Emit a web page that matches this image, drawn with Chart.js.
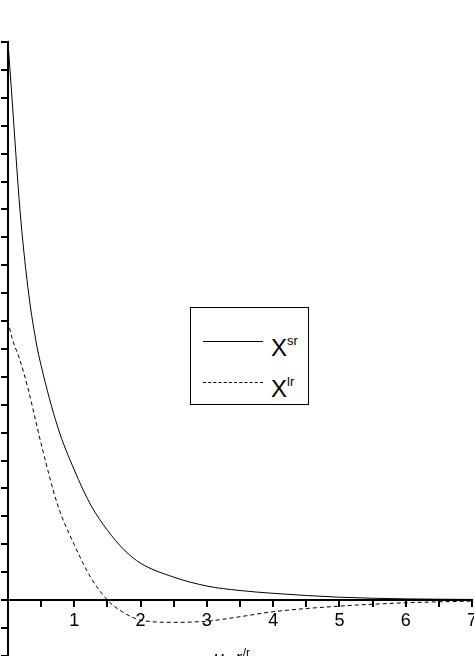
<!DOCTYPE html>
<html>
<head>
<meta charset="utf-8">
<script src="https://cdn.jsdelivr.net/npm/chart.js@4"></script>
<style>
  html, body { margin: 0; padding: 0; background: #fff; overflow: hidden; width: 474px; height: 656px; }
  #wrap { position: relative; width: 474px; height: 656px; overflow: hidden; }
  .legend { position: absolute; left: 190px; top: 307px; width: 117px; height: 96px; border: 1.5px solid #000; background: #fff; font-family: "Liberation Sans", Arial, sans-serif; }
  .row { position: absolute; left: 12px; height: 30px; }
  .row .ln { position: absolute; left: 0; top: 15px; width: 60px; border-top: 1px solid #000; }
  .row .ln.dash { border-top: 1px dashed #000; }
  .row .t { position: absolute; left: 68px; top: 0; font-size: 24px; line-height: 30px; }
  .row sup { font-size: 13px; vertical-align: 11px; }
  .xt { position: absolute; left: 214px; top: 646px; font-family: "Liberation Sans", Arial, sans-serif; font-size: 19px; }
  .xt sup { font-size: 12px; }
</style>
</head>
<body>
<div id="wrap">
  <canvas id="c" width="481" height="663"></canvas>
  <div class="legend">
    <div class="row" style="top:18px"><div class="ln"></div><div class="t">X<sup>sr</sup></div></div>
    <div class="row" style="top:59px"><div class="ln dash"></div><div class="t">X<sup>lr</sup></div></div>
  </div>
  <div class="xt">μ<sub style="font-size:11px">lr</sub> r<sup>/r</sup></div>
</div>
<script>
const xs = [0, 0.06, 0.18, 0.3, 0.42, 0.5, 0.75, 1, 1.25, 1.5, 1.75, 2, 2.5, 3, 3.5, 4, 5, 6, 7];
const xSr = [1.0, 0.9, 0.70, 0.56, 0.465, 0.42, 0.31, 0.233, 0.17, 0.125, 0.09, 0.066, 0.041, 0.025, 0.017, 0.012, 0.005, 0.002, 0.001];
const xLr = [0.5, 0.47, 0.43, 0.38, 0.32, 0.28, 0.17, 0.099, 0.04, 0.0, -0.023, -0.036, -0.04, -0.038, -0.03, -0.021, -0.011, -0.005, -0.002];

const toPts = (ys) => xs.map((x, i) => ({ x, y: ys[i] }));

new Chart(document.getElementById("c"), {
  type: "line",
  data: {
    datasets: [
      { label: "Xsr", data: toPts(xSr), borderColor: "#000", borderWidth: 1, pointRadius: 0, cubicInterpolationMode: "monotone", fill: false },
      { label: "Xlr", data: toPts(xLr), borderColor: "#000", borderWidth: 1, borderDash: [4, 3], pointRadius: 0, cubicInterpolationMode: "monotone", fill: false },
    ],
  },
  options: {
    responsive: false,
    animation: false,
    layout: { padding: { top: 42, right: 2, bottom: 0, left: 0 } },
    plugins: { legend: { display: false }, tooltip: { enabled: false } },
    scales: {
      x: {
        type: "linear",
        min: 0,
        max: 7,
        position: { y: 0 },
        border: { color: "#000", width: 2 },
        grid: { drawOnChartArea: false, drawTicks: true, tickLength: 6, color: "#000", lineWidth: 2 },
        ticks: {
          stepSize: 0.5,
          color: "#000",
          font: { family: "Liberation Sans", size: 18 },
          padding: 4,
          maxRotation: 0,
          callback: (v) => (Number.isInteger(v) && v > 0 ? String(v) : ""),
        },
      },
      y: {
        min: -0.1,
        max: 1.0,
        position: "left",
        border: { color: "#000", width: 2 },
        grid: { drawOnChartArea: false, drawTicks: true, tickLength: 7, color: "#000", lineWidth: 2 },
        ticks: { stepSize: 0.05, display: true, callback: () => "", padding: 0 },
        afterFit: (s) => { s.width = 8; },
      },
    },
  },
});
</script>
</body>
</html>
